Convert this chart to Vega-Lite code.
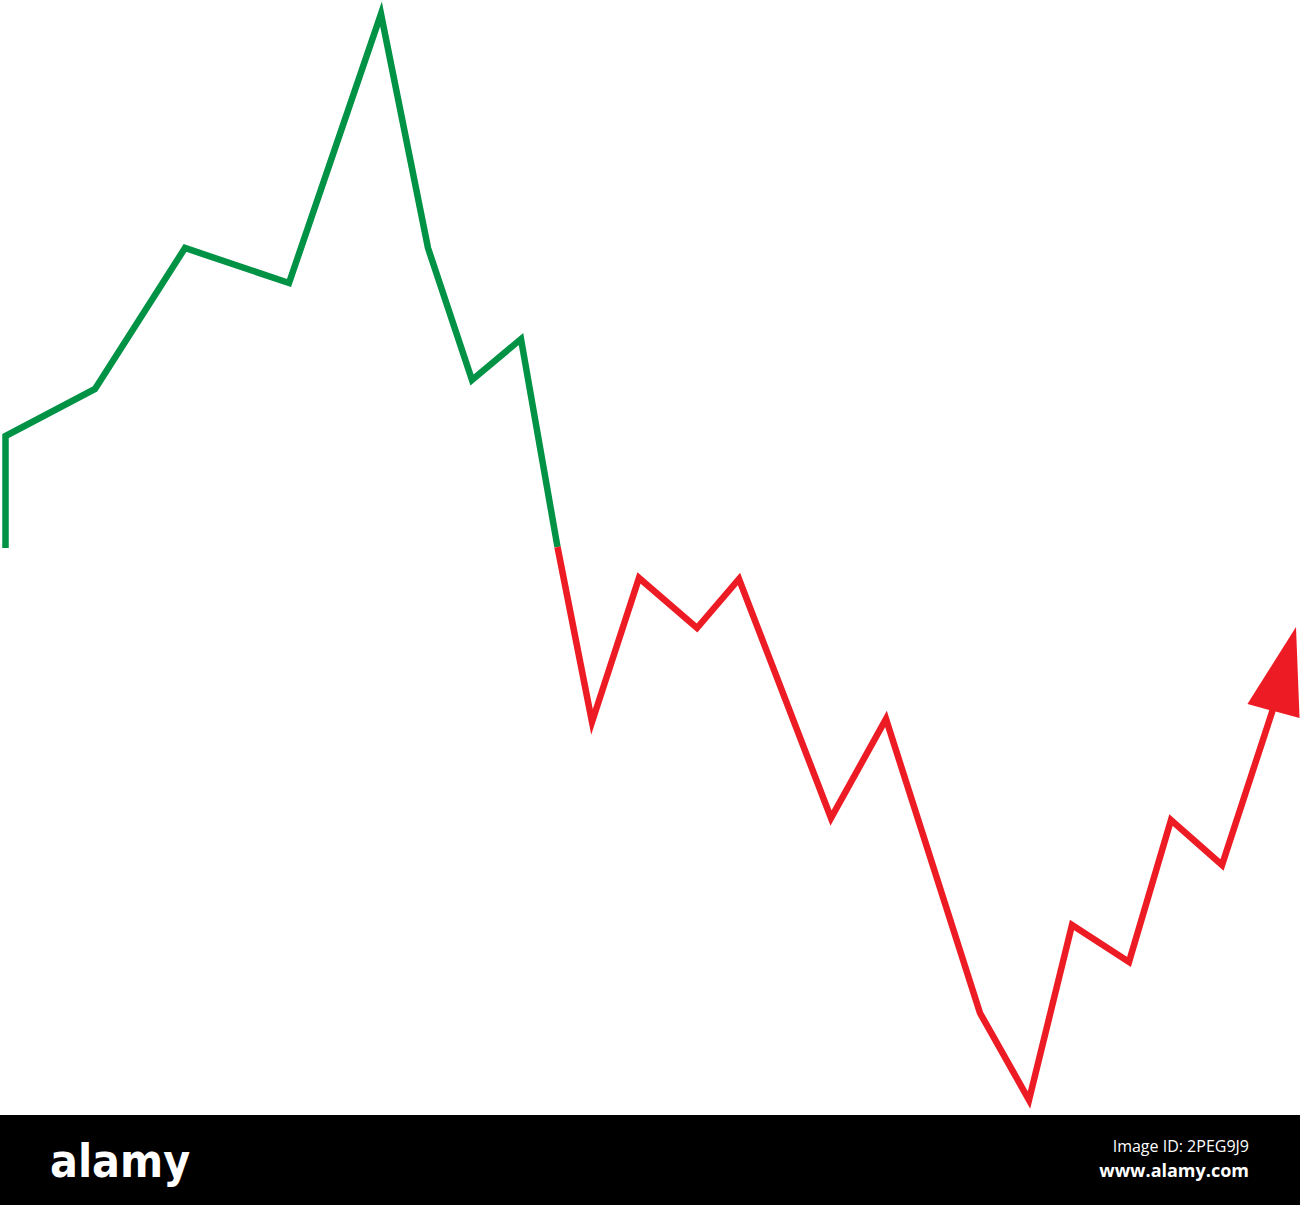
{
  "$schema": "https://vega.github.io/schema/vega-lite/v6.json",
  "autosize": "none",
  "padding": 0,
  "background": "white",
  "width": 1300,
  "height": 1205,
  "config": {"view": {"stroke": null}},
  "datasets": {
    "series": [
      {"i": 1, "t": 5.5, "v": 567, "trend": "rise"},
      {"i": 2, "t": 5.5, "v": 679, "trend": "rise"},
      {"i": 3, "t": 95, "v": 726, "trend": "rise"},
      {"i": 4, "t": 185, "v": 867, "trend": "rise"},
      {"i": 5, "t": 289, "v": 832, "trend": "rise"},
      {"i": 6, "t": 381, "v": 1101, "trend": "rise"},
      {"i": 7, "t": 428, "v": 867, "trend": "rise"},
      {"i": 8, "t": 472, "v": 735, "trend": "rise"},
      {"i": 9, "t": 521, "v": 776, "trend": "rise"},
      {"i": 10, "t": 557.5, "v": 568, "trend": "rise"},
      {"i": 10, "t": 557.5, "v": 568, "trend": "fall"},
      {"i": 11, "t": 592, "v": 393, "trend": "fall"},
      {"i": 12, "t": 639, "v": 537, "trend": "fall"},
      {"i": 13, "t": 697, "v": 487, "trend": "fall"},
      {"i": 14, "t": 739, "v": 536, "trend": "fall"},
      {"i": 15, "t": 831, "v": 297, "trend": "fall"},
      {"i": 16, "t": 886, "v": 396, "trend": "fall"},
      {"i": 17, "t": 980, "v": 102, "trend": "fall"},
      {"i": 18, "t": 1029, "v": 15, "trend": "fall"},
      {"i": 19, "t": 1072, "v": 190, "trend": "fall"},
      {"i": 20, "t": 1129, "v": 153, "trend": "fall"},
      {"i": 21, "t": 1171, "v": 295, "trend": "fall"},
      {"i": 22, "t": 1222, "v": 250, "trend": "fall"},
      {"i": 23, "t": 1276, "v": 415, "trend": "fall"}
    ],
    "tip": [{"t": 1296, "v": 488, "trend": "fall"}],
    "footer": [{"brand": "alamy", "id": "Image ID: 2PEG9J9", "site": "www.alamy.com"}]
  },
  "layer": [
    {
      "data": {"name": "footer"},
      "mark": {"type": "rect", "color": "black"},
      "encoding": {
        "x": {"datum": 0, "type": "quantitative", "scale": {"domain": [0, 1300], "nice": false, "zero": false}, "axis": null},
        "x2": {"datum": 1300},
        "y": {"datum": -90, "type": "quantitative", "scale": {"domain": [-90, 1115], "nice": false, "zero": false}, "axis": null},
        "y2": {"datum": 0}
      }
    },
    {
      "data": {"name": "series"},
      "mark": {"type": "line", "strokeWidth": 6.5, "strokeJoin": "miter", "strokeCap": "butt"},
      "encoding": {
        "x": {"field": "t", "type": "quantitative"},
        "y": {"field": "v", "type": "quantitative"},
        "order": {"field": "i", "type": "quantitative"},
        "color": {"field": "trend", "type": "nominal", "scale": {"domain": ["rise", "fall"], "range": ["#009245", "#ED1C24"]}, "legend": null}
      }
    },
    {
      "data": {"name": "tip"},
      "mark": {"type": "point", "filled": true, "opacity": 1, "shape": "M0,0L0.62,2L-0.62,2Z", "size": 7569, "angle": 15, "strokeWidth": 0},
      "encoding": {
        "x": {"field": "t", "type": "quantitative"},
        "y": {"field": "v", "type": "quantitative"},
        "color": {"field": "trend", "type": "nominal", "legend": null}
      }
    },
    {
      "data": {"name": "footer"},
      "mark": {"type": "text", "font": "Liberation Sans Narrow, DejaVu Sans Condensed, Roboto, sans-serif", "fontWeight": "bold", "fontSize": 46, "color": "white", "align": "left", "baseline": "alphabetic"},
      "encoding": {
        "text": {"field": "brand"},
        "x": {"datum": 50, "type": "quantitative"},
        "y": {"datum": -62, "type": "quantitative"}
      }
    },
    {
      "data": {"name": "footer"},
      "mark": {"type": "text", "font": "Open Sans", "fontSize": 16, "color": "white", "align": "right", "baseline": "alphabetic"},
      "encoding": {
        "text": {"field": "id"},
        "x": {"datum": 1249, "type": "quantitative"},
        "y": {"datum": -37, "type": "quantitative"}
      }
    },
    {
      "data": {"name": "footer"},
      "mark": {"type": "text", "font": "Open Sans", "fontWeight": "bold", "fontSize": 18, "color": "white", "align": "right", "baseline": "alphabetic"},
      "encoding": {
        "text": {"field": "site"},
        "x": {"datum": 1249, "type": "quantitative"},
        "y": {"datum": -62, "type": "quantitative"}
      }
    }
  ]
}
